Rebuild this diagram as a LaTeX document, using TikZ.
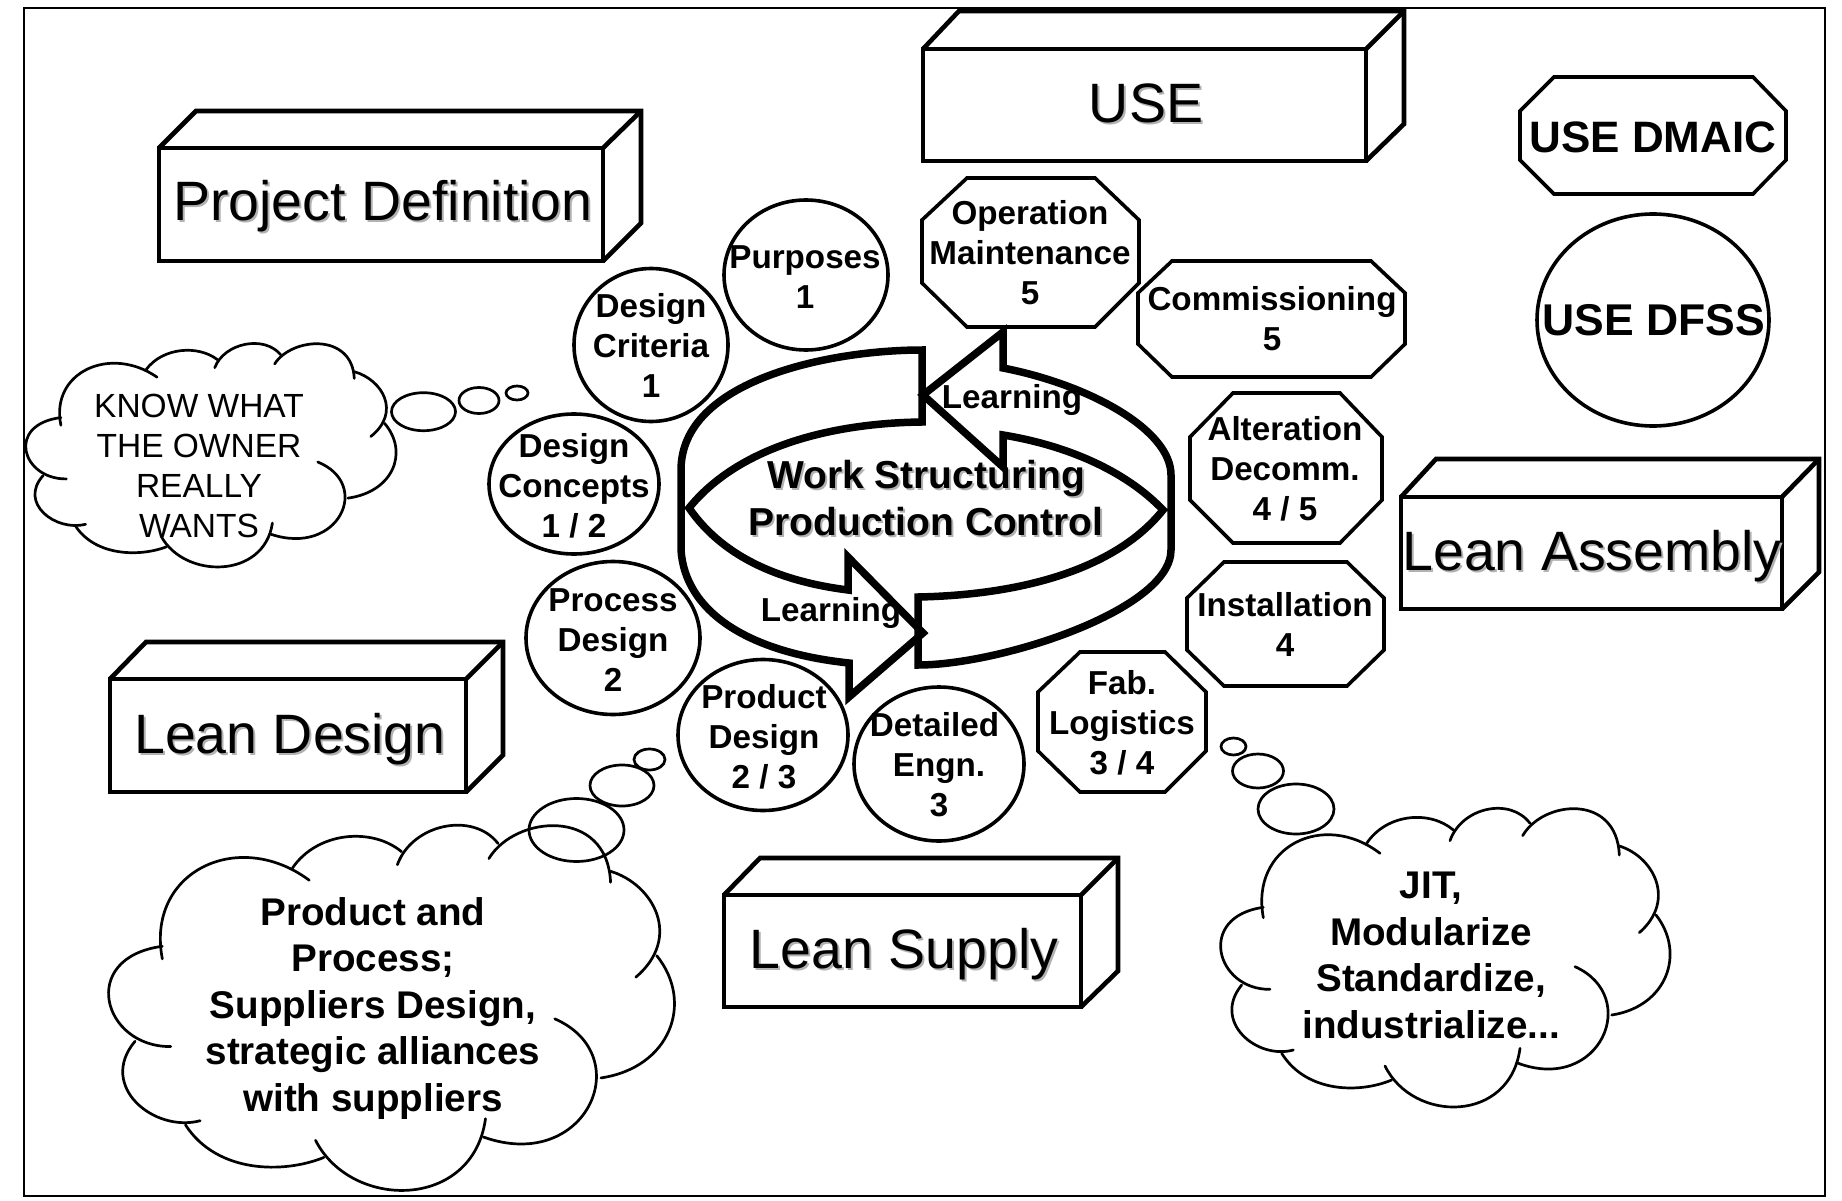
\documentclass[tikz,border=0pt]{standalone}
\usepackage{fontspec}
\setmainfont{Liberation Sans}
\usetikzlibrary{shapes.geometric}
\newcommand\sT{\strut}
\newcommand\cloudarcs{%
 \draw[cl] (190,593) .. controls (150,380) and (370,270) .. (540,400);
 \draw[cl] (500,370) .. controls (560,280) and (690,270) .. (760,330);
 \draw[cl] (750,362) .. controls (785,262) and (930,230) .. (990,310);
 \draw[cl] (968,347) .. controls (1030,240) and (1250,220) .. (1258,405);
 \draw[cl] (1258,378) .. controls (1360,410) and (1430,540) .. (1318,638);
 \draw[cl] (1368,585) .. controls (1458,700) and (1400,860) .. (1235,885);
 \draw[cl] (1125,740) .. controls (1325,830) and (1200,1120) .. (955,1030);
 \draw[cl] (960,985) .. controls (930,1210) and (640,1210) .. (555,1038);
 \draw[cl] (575,1080) .. controls (480,1120) and (320,1120) .. (245,1000);
 \draw[cl] (280,990) .. controls (170,1020) and (35,905) .. (125,795);
 \draw[cl] (210,808) .. controls (48,810) and (-12,590) .. (190,562);
}
% #1 l, #2 t, #3 r, #4 b, #5 back left x, #6 back top y, #7 back right x, #8 back bottom y
\newcommand\boxshape[8]{%
 \draw[bx] (#1,#2) rectangle (#3,#4);
 \draw[bx] (#1,#2) -- (#5,#6) -- (#7,#6) -- (#7,#8) -- (#3,#4);
 \draw[bx] (#3,#2) -- (#7,#6);
}
% #1 style, #2 name, #3 x, #4 y, #5 text
\newcommand\shadlabel[5][big]{%
 \node[#1,text=black!30] (#2s) at (#3+2,#4+2) {#5};
 \node[#1] (#2) at (#3,#4) {#5};
}
% #1 name, #2 l, #3 r, #4 t, #5 b, #6 xl, #7 xr, #8 yt, #9 yb
\newcommand\octa[9]{%
 \draw[oc] (#6,#4) -- (#7,#4) -- (#3,#8) -- (#3,#9) -- (#7,#5) -- (#6,#5) -- (#2,#9) -- (#2,#8) -- cycle;
}
\tikzset{
 x=1pt,y=-1pt,
 frame/.style={draw=black,line width=2.4pt},
 bx/.style={draw=black,line width=4.6pt,line join=miter},
 oc/.style={draw=black,line width=3.6pt,line join=miter},
 ring/.style={draw=black,line width=7.5pt,line join=miter},
 cl/.style={draw=black,line width=2.7pt,line cap=round},
 el/.style={ellipse,draw=black,line width=3.6pt,inner sep=0pt,outer sep=0pt},
 bub/.style={ellipse,draw=black,line width=2.7pt,inner sep=0pt,outer sep=0pt},
 txt/.style={align=center,inner sep=0pt,outer sep=0pt},
 lab/.style={txt,font=\fontsize{33.2}{40}\selectfont\bfseries},
 big/.style={txt,font=\fontsize{55.5}{64}\selectfont},
 core/.style={txt,font=\fontsize{39}{47}\selectfont\bfseries},
 cbold/.style={txt,font=\fontsize{38.6}{46.6}\selectfont\bfseries},
 creg/.style={txt,font=\fontsize{33.5}{40}\selectfont},
}
\begin{document}
\begin{tikzpicture}
\useasboundingbox (0,0) rectangle (1842,1201);
\draw[frame] (24,8) rectangle (1825,1196);

% 3D boxes
\boxshape{159}{148}{603}{261}{196}{111}{641}{223}
\boxshape{923}{49}{1366}{161}{959}{11}{1404}{124}
\boxshape{1401}{497}{1782}{609}{1436}{459}{1819}{572}
\boxshape{110}{679}{466}{792}{146}{642}{503}{755}
\boxshape{724}{895}{1081}{1007}{760}{858}{1118}{971}
\shadlabel{pd}{383}{208}{\sT Project Definition}
\shadlabel{use}{1146}{109.5}{\sT USE}
\shadlabel{la}{1592}{557.5}{\sT Lean Assembly}
\shadlabel{ld}{290}{740.5}{\sT Lean Design}
\shadlabel{ls}{904}{956}{\sT Lean Supply}

% central ring
\draw[ring] (922,350) .. controls (830,350) and (681,380) .. (681,470) -- (681,550)
  .. controls (685,610) and (745,652) .. (849,663) -- (849,697) -- (923,633) -- (848,557) -- (848,590)
  .. controls (785,582) and (725,560) .. (689,508)
  .. controls (740,445) and (835,423) .. (922,422) -- cycle;
\draw[ring] (918,665) .. controls (1000,665) and (1171,610) .. (1171,550) -- (1171,475)
  .. controls (1171,430) and (1090,385) .. (1003,368) -- (1003,332) -- (923,395) -- (1003,467) -- (1003,435)
  .. controls (1065,445) and (1125,470) .. (1163,510)
  .. controls (1115,570) and (1020,595) .. (918,597) -- cycle;
\shadlabel[core]{core}{926}{502.5}{\sT Work Structuring\\\sT Production Control}
\node[lab] (l1) at (1012,400.5) {\sT Learning};
\node[lab] (l2) at (831,613.5) {\sT Learning};

% circles
\node[el,minimum width=164pt,minimum height=150pt] (c1) at (806,275) {};
\node[lab] (c1t) at (805,280.5) {\sT Purposes\\\sT 1};
\node[el,minimum width=154pt,minimum height=153pt] (c2) at (651,345) {};
\node[lab] (c2t) at (651,349.5) {\sT Design\\\sT Criteria\\\sT 1};
\node[el,minimum width=170pt,minimum height=140pt] (c3) at (574,484) {};
\node[lab] (c3t) at (574,489) {\sT Design\\\sT Concepts\\\sT 1 / 2};
\node[el,minimum width=174pt,minimum height=153pt] (c4) at (613,638) {};
\node[lab] (c4t) at (613,643) {\sT Process\\\sT Design\\\sT 2};
\node[el,minimum width=170pt,minimum height=151pt] (c5) at (763,735) {};
\node[lab] (c5t) at (764,740) {\sT Product\\\sT Design\\\sT 2 / 3};
\node[el,minimum width=170pt,minimum height=154pt] (c6) at (939,764) {};
\node[lab] (c6t) at (939,768.5) {\sT\mbox{Detailed\hspace{9pt}}\\\sT Engn.\\\sT 3};
\node[el,minimum width=232pt,minimum height=212pt] (c7) at (1653,320) {};
\node[txt,font=\fontsize{44.5}{54}\selectfont\bfseries] (c7t) at (1654,325) {\sT USE DFSS};

% octagons
\octa{o1}{922}{1139}{178}{327}{967}{1095}{220}{283}
\node[lab] (o1t) at (1030,256.5) {\sT Operation\\\sT Maintenance\\\sT 5};
\octa{o2}{1138}{1405}{261}{377}{1172}{1371}{293}{344}
\node[lab] (o2t) at (1272,322) {\sT Commissioning\\\sT 5};
\octa{o3}{1520}{1786}{77}{194}{1554}{1753}{111}{160}
\node[txt,font=\fontsize{44}{52}\selectfont\bfseries] (o3t) at (1653,142.5) {\sT USE DMAIC};
\octa{o4}{1190}{1382}{393}{543}{1233}{1340}{437}{500}
\node[lab] (o4t) at (1285,472) {\sT Alteration\\\sT Decomm.\\\sT 4 / 5};
\octa{o5}{1187}{1384}{562}{686}{1224}{1347}{598}{650}
\node[lab] (o5t) at (1285,628) {\sT Installation\\\sT 4};
\octa{o6}{1038}{1206}{652}{792}{1080}{1165}{692}{751}
\node[lab] (o6t) at (1122,726) {\sT Fab.\\\sT Logistics\\\sT 3 / 4};

% clouds
\begin{scope}[shift={(8.7,277.4)},x=0.2747pt,y=-0.2494pt]\cloudarcs\end{scope}
\begin{scope}[shift={(82.6,717.2)},x=0.4197pt,y=-0.4076pt]\cloudarcs\end{scope}
\begin{scope}[shift={(1200,720)},x=0.33333pt,y=-0.33333pt]\cloudarcs\end{scope}

\node[bub,minimum width=64pt,minimum height=38pt] (b11) at (423.5,411.7) {};
\node[bub,minimum width=40pt,minimum height=26pt] (b12) at (479,400.5) {};
\node[bub,minimum width=22pt,minimum height=14pt] (b13) at (517,393) {};
\node[bub,minimum width=95pt,minimum height=63pt] (b21) at (576.5,830) {};
\node[bub,minimum width=64pt,minimum height=41pt] (b22) at (622,785.5) {};
\node[bub,minimum width=31pt,minimum height=21pt] (b23) at (649.5,759.5) {};
\node[bub,minimum width=76pt,minimum height=50pt] (b31) at (1296,809) {};
\node[bub,minimum width=51pt,minimum height=34pt] (b32) at (1258,771) {};
\node[bub,minimum width=25pt,minimum height=17pt] (b33) at (1233.5,746.5) {};

\node[creg] (t1) at (199,469) {\sT KNOW WHAT\\\sT THE OWNER\\\sT REALLY\\\sT WANTS};
\node[cbold] (t2) at (373,1009) {\sT Product and\\\sT Process;\\\sT Suppliers Design,\\\sT strategic alliances\\\sT with suppliers};
\node[cbold] (t3) at (1431,959) {\sT JIT,\\\sT Modularize\\\sT Standardize,\\\sT industrialize...};
\end{tikzpicture}
\end{document}
